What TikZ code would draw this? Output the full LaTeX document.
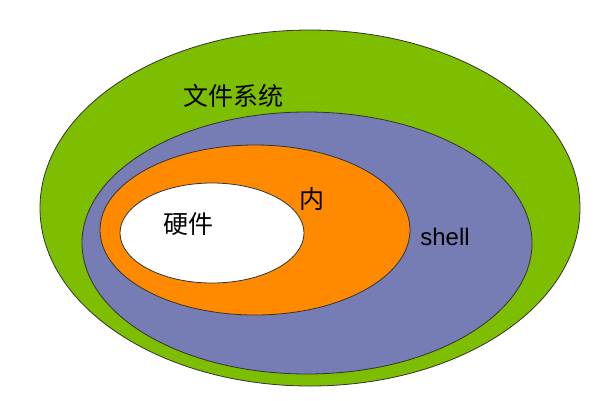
\documentclass[tikz,border=0pt]{standalone}
\usepackage{fontspec}
\newfontfamily\cjk{Noto Sans CJK SC}
\setmainfont{Liberation Sans}
\definecolor{gr}{RGB}{126,190,0}
\definecolor{pu}{RGB}{118,124,180}
\definecolor{orn}{RGB}{255,138,0}
\begin{document}
\begin{tikzpicture}[x=1pt,y=-1pt,
  ell/.style={draw=black!80,line width=0.8pt},
  lbl/.style={font=\fontsize{25}{27}\selectfont\cjk}]
\useasboundingbox[fill=white] (0,0) rectangle (602,400);
\fill[ell,fill=gr] (310,208) ellipse [x radius=270,y radius=178];
\fill[ell,fill=pu] (307,243) ellipse [x radius=225,y radius=131];
\fill[ell,fill=orn] (255,230) ellipse [x radius=155,y radius=85];
\fill[ell,fill=white] (212,233) ellipse [x radius=92,y radius=50];
\node[lbl] (fs) at (233,96) {文件系统};
\node[lbl] (kn) at (312,199) {内};
\node[font=\fontsize{24}{26}\selectfont] (sh) at (445,237) {shell};
\node[lbl] (hw) at (188,224) {硬件};
\end{tikzpicture}
\end{document}
